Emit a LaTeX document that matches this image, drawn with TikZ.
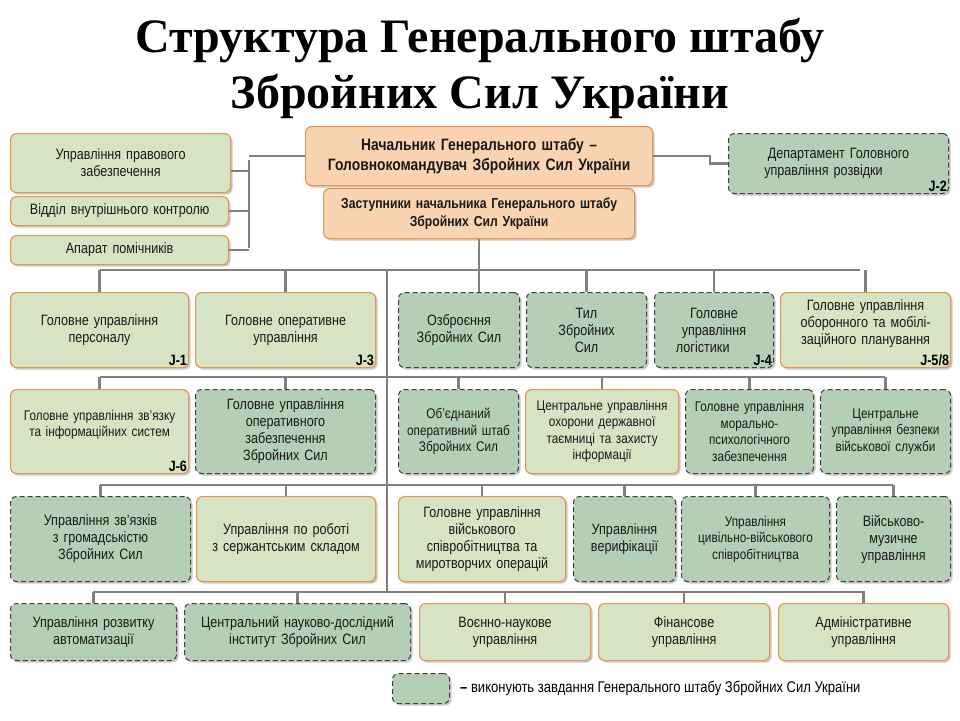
\documentclass[tikz,border=0pt]{standalone}
\usepackage{fontspec}
\setmainfont{Liberation Sans}[FakeStretch=0.84]
\newfontfamily\titlefont{Liberation Serif}
\usetikzlibrary{shadows}
\definecolor{lightg}{RGB}{214,228,196}
\definecolor{darkg}{RGB}{180,207,182}
\definecolor{orbd}{RGB}{228,150,80}
\definecolor{orfill}{RGB}{250,212,176}
\definecolor{conng}{RGB}{128,128,128}
\tikzset{
  base/.style={rounded corners=6pt, align=center, inner sep=1pt, font=\fontsize{15}{17}\selectfont, text=black!90,
    drop shadow={shadow xshift=2pt, shadow yshift=-2pt, opacity=0.35, fill=black!60}},
  lbox/.style={base, fill=lightg, draw=orbd, line width=1.2pt},
  dbox/.style={base, fill=darkg, draw=black!75, dashed, dash pattern=on 5pt off 3pt, line width=1pt},
  obox/.style={base, fill=orfill, draw=orbd, line width=1.2pt, font=\bfseries\fontsize{16.5}{19.5}\selectfont},
  small/.style={font=\fontsize{14}{16.5}\selectfont},
  conn/.style={draw=conng, line width=2.4pt},
  jlab/.style={font=\bfseries\fontsize{15}{16}\selectfont, anchor=south east, inner sep=2pt, text=black},
}
\newcommand{\bx}[7]{\node[#6, minimum width={#4-#2}, minimum height={#5-#3}, text width={#4-#2-2}, anchor=north west] (#1) at (#2,#3) {#7};}
\begin{document}
\begin{tikzpicture}[x=1pt,y=-1pt]
\useasboundingbox (0,0) rectangle (960,720);
\node[font=\titlefont\bfseries\fontsize{48}{56}\selectfont, align=center] (title) at (480,68) {Структура Генерального штабу\\Збройних Сил України};

\coordinate (lv1) at (249,160);
\coordinate (lv2) at (249,248);
\coordinate (rj) at (710,155);
\coordinate (b1l) at (100,270); \coordinate (b1r) at (860,270);
\coordinate (b2l) at (100,377); \coordinate (b2r) at (885,377);
\coordinate (b3l) at (100,485); \coordinate (b3r) at (893,485);
\coordinate (b4l) at (93,592);  \coordinate (b4r) at (865,592);
\coordinate (sp1) at (387,270); \coordinate (sp2) at (387,592);

\draw[conn] (lv1) -- (lv2);
\draw[conn] (b1l) -- (b1r);
\draw[conn] (b2l) -- (b2r);
\draw[conn] (b3l) -- (b3r);
\draw[conn] (b4l) -- (b4r);
\draw[conn] (sp1) -- (sp2);

\bx{chief}{305}{126}{652}{185}{obox}{Начальник Генерального штабу –\\Головнокомандувач Збройних Сил України}
\bx{dep}{323}{188}{634}{238}{obox,font=\bfseries\fontsize{14.5}{17.5}\selectfont}{Заступники начальника Генерального штабу\\Збройних Сил України}
\bx{L1}{10}{133}{230}{192}{lbox}{Управління правового\\забезпечення}
\bx{L2}{10}{196}{228}{225}{lbox}{Відділ внутрішнього контролю}
\bx{L3}{10}{235}{228}{264}{lbox}{Апарат помічників}
\bx{R1}{728}{133}{948}{193}{dbox}{Департамент Головного\\управління розвідки\hspace*{2em}}
\node[jlab] (jR1) at (R1.south east) {J-2};

\bx{A1}{10}{292}{188}{367}{lbox}{Головне управління\\персоналу}
\bx{A2}{195}{292}{375}{367}{lbox}{Головне оперативне\\управління}
\bx{A3}{398}{292}{519}{367}{dbox}{Озброєння\\Збройних Сил}
\bx{A4}{526}{292}{646}{367}{dbox}{Тил\\Збройних\\Сил}
\bx{A5}{654}{292}{773}{367}{dbox}{Головне\\управління\\логістики\hspace*{1.5em}}
\bx{A6}{780}{292}{950}{367}{lbox}{Головне управління\\оборонного та мобілі-\\заційного планування\\\mbox{}}
\node[jlab] (jA1) at (A1.south east) {J-1};
\node[jlab] (jA2) at (A2.south east) {J-3};
\node[jlab] (jA5) at (A5.south east) {J-4};
\node[jlab] (jA6) at (A6.south east) {J-5/8};

\bx{B1}{10}{389}{188}{473}{lbox,small}{Головне управління зв’язку\\та інформаційних систем\\\mbox{}}
\bx{B2}{195}{389}{375}{473}{dbox}{Головне управління\\оперативного\\забезпечення\\Збройних Сил}
\bx{B3}{398}{389}{518}{473}{dbox,small}{Об’єднаний\\оперативний штаб\\Збройних Сил}
\bx{B4}{525}{389}{678}{473}{lbox,small}{Центральне управління\\охорони державної\\таємниці та захисту\\інформації}
\bx{B5}{685}{389}{813}{473}{dbox,small}{Головне управління\\морально-\\психологічного\\забезпечення}
\bx{B6}{820}{389}{950}{473}{dbox,small}{Центральне\\управління безпеки\\військової служби}
\node[jlab] (jB1) at (B1.south east) {J-6};

\bx{C1}{10}{496}{190}{581}{dbox}{Управління зв'язків\\з громадськістю\\Збройних Сил}
\bx{C2}{196}{496}{375}{581}{lbox}{Управління по роботі\\з сержантським складом}
\bx{C3}{398}{496}{565}{581}{lbox}{Головне управління\\військового\\співробітництва та\\миротворчих операцій}
\bx{C4}{573}{496}{675}{581}{dbox}{Управління\\верифікації}
\bx{C5}{681}{496}{829}{581}{dbox,small}{Управління\\цивільно-військового\\співробітництва}
\bx{C6}{836}{496}{950}{581}{dbox}{Військово-\\музичне\\управління}

\bx{D1}{10}{603}{176}{660}{dbox}{Управління розвитку\\автоматизації}
\bx{D2}{184}{603}{410}{660}{dbox}{Центральний науково-дослідний\\інститут Збройних Сил}
\bx{D3}{419}{603}{590}{660}{lbox}{Воєнно-наукове\\управління}
\bx{D4}{598}{603}{769}{660}{lbox}{Фінансове\\управління}
\bx{D5}{778}{603}{948}{660}{lbox}{Адміністративне\\управління}

\bx{leg}{392}{673}{449}{703}{dbox}{}
\node[anchor=west, font=\fontsize{15.5}{17}\selectfont, inner sep=0pt] (legt) at (460,688) {\textbf{–} виконують завдання Генерального штабу Збройних Сил України};

\draw[conn] (chief.west) -- (chief.west -| lv1);
\draw[conn] (L1.east) ++(0,8) coordinate (l1e) -- (l1e -| lv1);
\draw[conn] (L2.east) -- (L2.east -| lv1);
\draw[conn] (L3.east) -- (L3.east -| lv1);
\draw[conn] (chief.east) -- (chief.east -| rj) |- (R1.west);
\draw[conn] (dep.south) -- (dep.south |- b1l);
\foreach \n in {A1,A2,A4,A5,A6} \draw[conn] (\n.north) -- (\n.north |- b1l);
\draw[conn] (dep.south |- b1l) -- (dep.south |- A3.north);
\foreach \n in {B1,B2,B3,B4,B5,B6} \draw[conn] (\n.north) -- (\n.north |- b2l);
\foreach \n in {C1,C2,C4,C5,C6} \draw[conn] (\n.north) -- (\n.north |- b3l);
\draw[conn] (C3.north) ++(0,0) coordinate (c3n) -- (c3n |- b3l);
\foreach \n in {D1,D2,D4,D5} \draw[conn] (\n.north) -- (\n.north |- b4l);
\draw[conn] (D3.north west) ++(86,0) coordinate (d3n) -- (d3n |- b4l);
\end{tikzpicture}
\end{document}
